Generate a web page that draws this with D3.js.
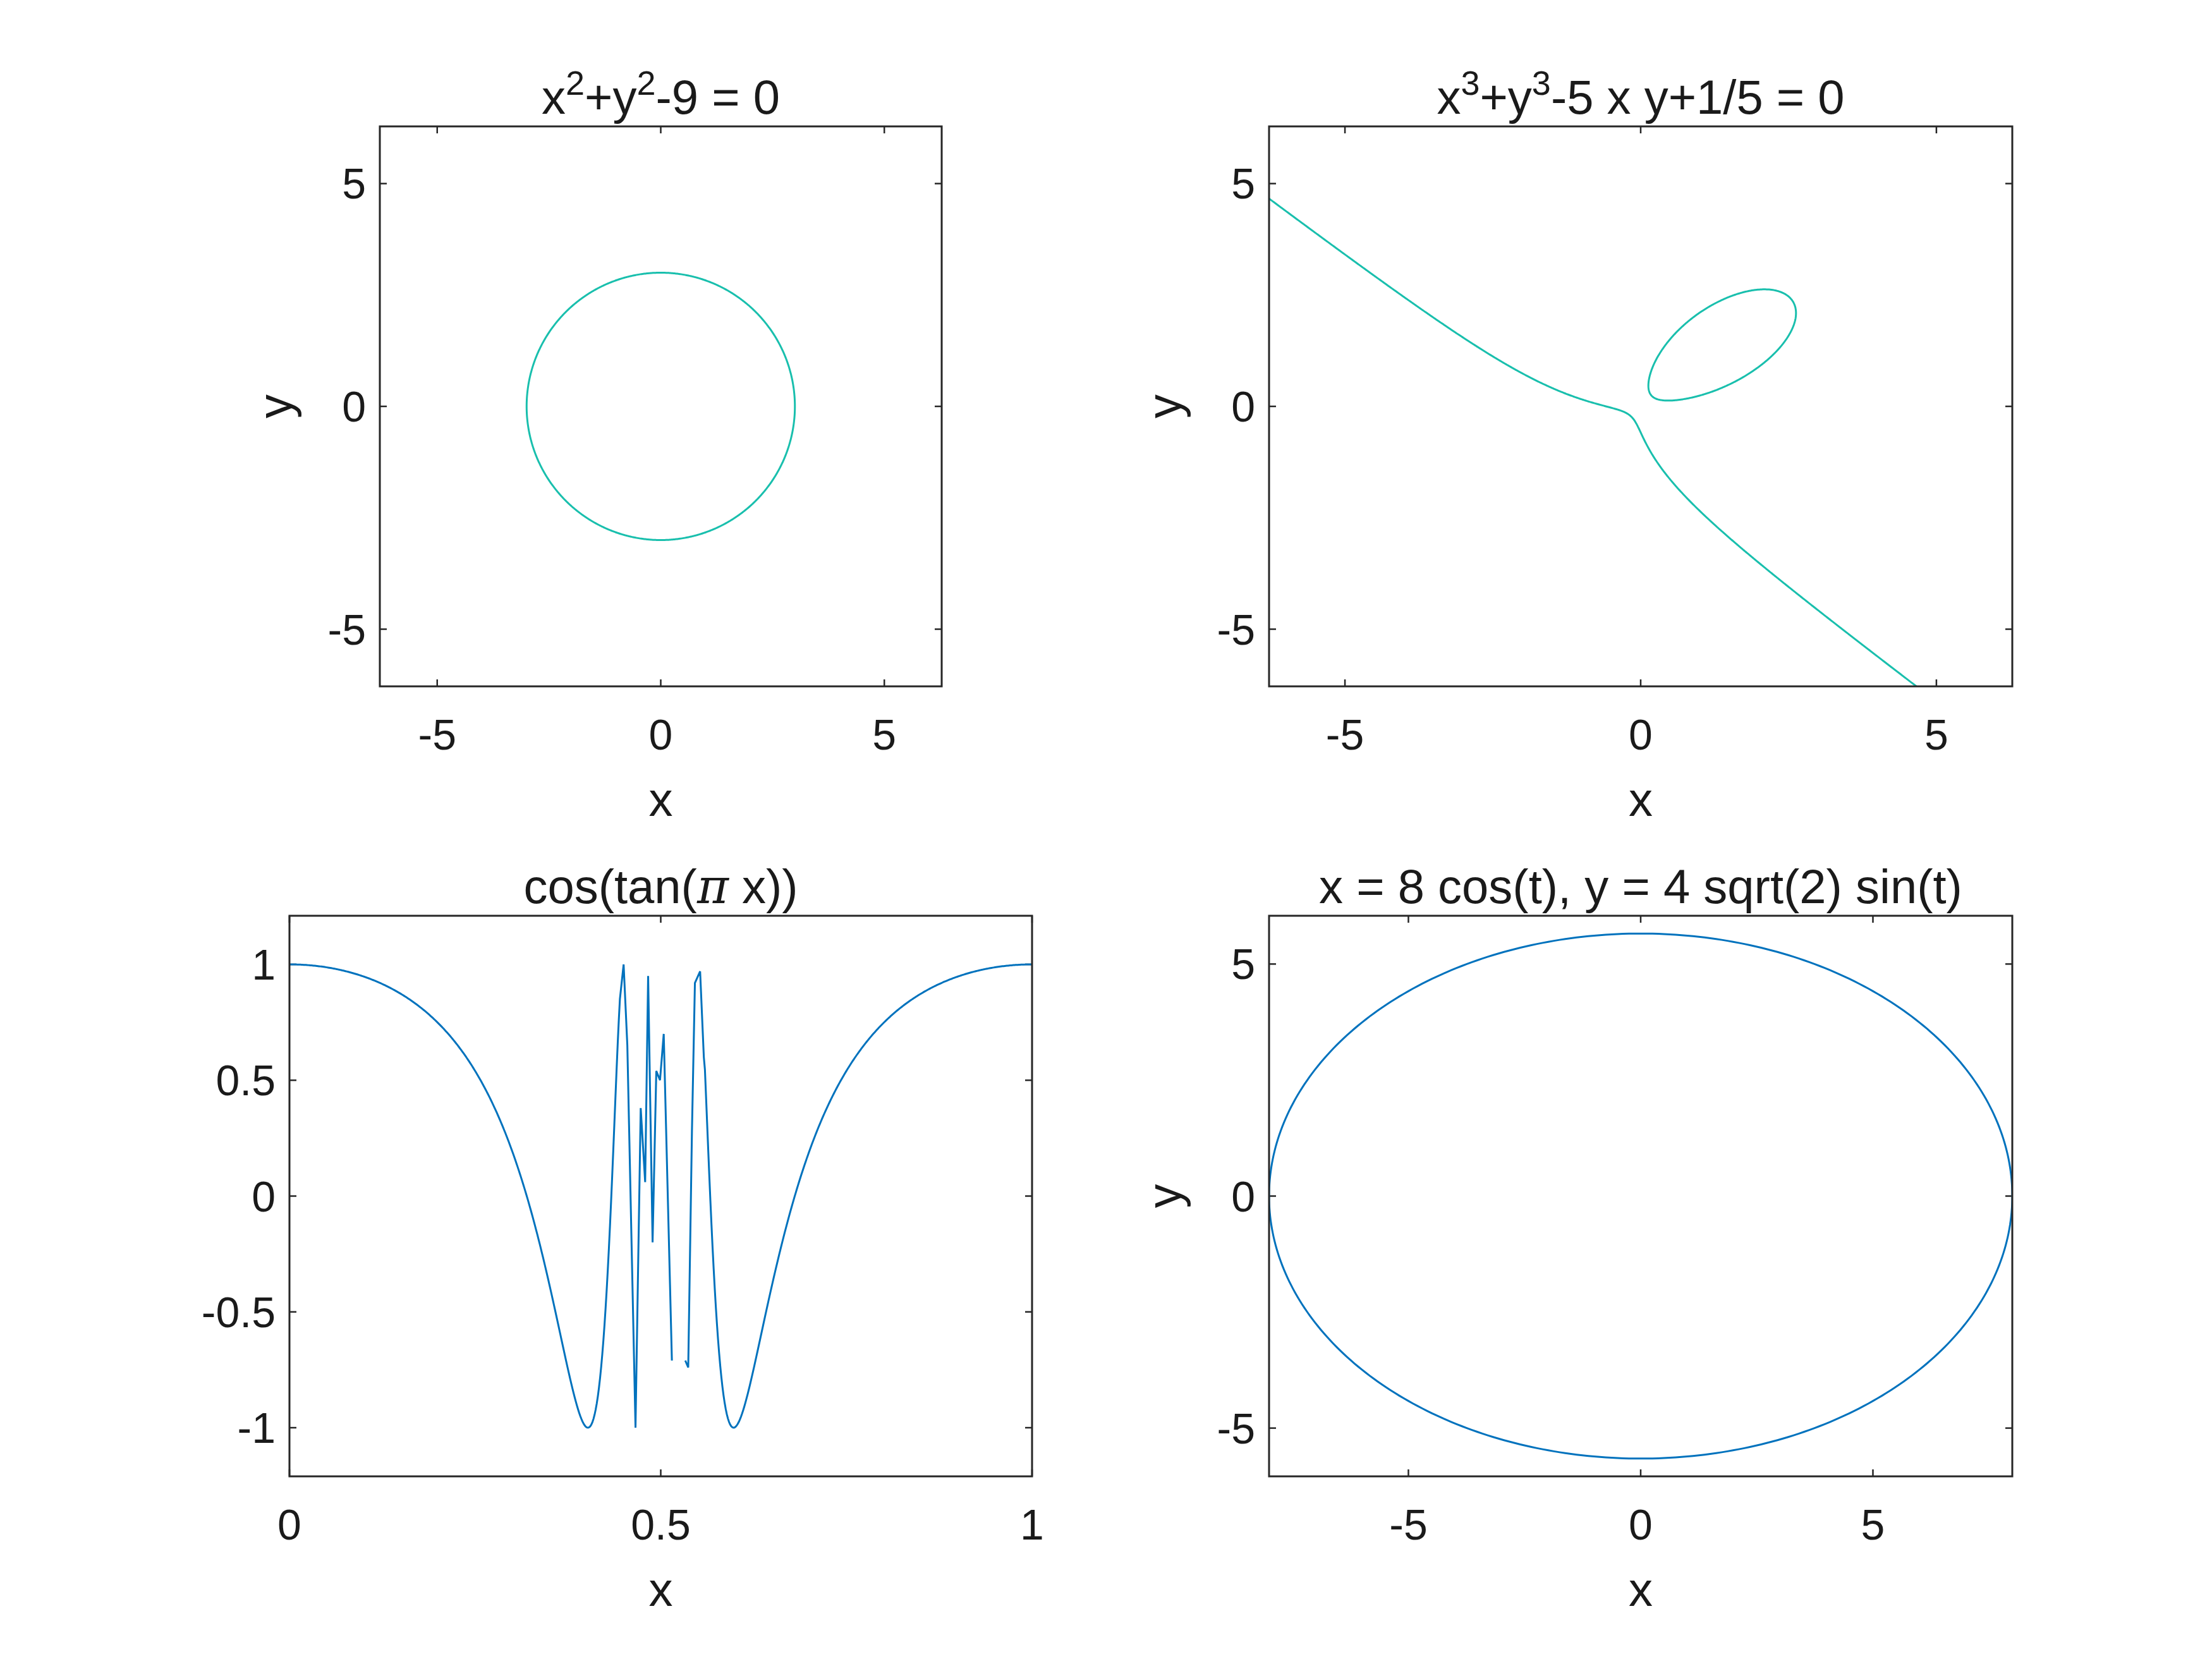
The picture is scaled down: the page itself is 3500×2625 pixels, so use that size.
<!DOCTYPE html>
<html><head><meta charset="utf-8">
<script src="https://cdn.jsdelivr.net/npm/d3@7"></script>
<style>body{margin:0;background:#fff}text{font-family:"Liberation Sans",Arial,sans-serif;fill:#1a1a1a}</style>
</head><body><svg id="c" width="3500" height="2625"></svg>
<script>
// ---- data ----
const circleR2 = [9];                       // x^2+y^2 = 9
const cubicCoef = [5, 0.2];                 // x^3+y^3-5xy+1/5 = 0
const ellipseAB = [8, 4*Math.SQRT2];        // x=8cos t, y=4sqrt2 sin t
const implicitTicks = [-5, 0, 5];
const cosTanYTicks = [-1, -0.5, 0, 0.5, 1];
const cosTanXTicks = [0, 0.5, 1];
// jagged middle part of cos(tan(pi x)) as sampled in the picture
const cosTanMidA = [[0.445,0.88],[0.450,1.0],[0.455,0.65],[0.466,-1.0],[0.473,0.38],[0.479,0.06],[0.483,0.95],[0.489,-0.2],[0.494,0.54],[0.499,0.5],[0.504,0.7],[0.515,-0.71]];
const cosTanMidB = [[0.533,-0.71],[0.537,-0.74],[0.542,0.28],[0.546,0.92],[0.553,0.97],[0.558,0.6]];

const svg = d3.select("#c");
const FS = 68, TFS = 76, TEAL = "#19bfad", BLUE = "#0072BD";
const PI2 = 2*Math.PI;

function axes(box, xd, yd, xt, yt, title, xl, yl){
  const g = svg.append("g");
  const x = d3.scaleLinear().domain(xd).range([box[0], box[2]]);
  const y = d3.scaleLinear().domain(yd).range([box[3], box[1]]);
  const T = 11;
  xt.forEach(v=>{
    g.append("line").attr("x1",x(v)).attr("x2",x(v)).attr("y1",box[3]).attr("y2",box[3]-T).attr("stroke","#262626").attr("stroke-width",2.5);
    g.append("line").attr("x1",x(v)).attr("x2",x(v)).attr("y1",box[1]).attr("y2",box[1]+T).attr("stroke","#262626").attr("stroke-width",2.5);
    g.append("text").attr("x",x(v)).attr("y",box[3]+100).attr("text-anchor","middle").attr("font-size",FS).text(String(v));
  });
  yt.forEach(v=>{
    g.append("line").attr("y1",y(v)).attr("y2",y(v)).attr("x1",box[0]).attr("x2",box[0]+T).attr("stroke","#262626").attr("stroke-width",2.5);
    g.append("line").attr("y1",y(v)).attr("y2",y(v)).attr("x1",box[2]).attr("x2",box[2]-T).attr("stroke","#262626").attr("stroke-width",2.5);
    g.append("text").attr("x",box[0]-22).attr("y",y(v)+24).attr("text-anchor","end").attr("font-size",FS).text(String(v));
  });
  g.append("rect").attr("x",box[0]).attr("y",box[1]).attr("width",box[2]-box[0]).attr("height",box[3]-box[1]).attr("fill","none").attr("stroke","#262626").attr("stroke-width",3);
  g.append("text").attr("x",(box[0]+box[2])/2).attr("y",box[3]+205).attr("text-anchor","middle").attr("font-size",TFS).text(xl);
  if(yl) g.append("text").attr("transform",`translate(${box[0]-140},${(box[1]+box[3])/2}) rotate(-90)`).attr("text-anchor","middle").attr("font-size",TFS).text(yl);
  const t = g.append("text").attr("x",(box[0]+box[2])/2).attr("y",box[1]-20).attr("text-anchor","middle").attr("font-size",TFS);
  // parts: [text, kind] kind: "sup" | "base" (after sup) | "pi" | undefined
  title.forEach(p=>{
    const s=t.append("tspan").text(p[0]);
    if(p[1]==="sup") s.attr("dy",-30).attr("font-size",54);
    if(p[1]==="base") s.attr("dy",30);
    if(p[1]==="pi") s.attr("font-family","DejaVu Serif").attr("font-style","italic");
  });
  const clip = "c"+Math.random().toString(36).slice(2);
  g.append("clipPath").attr("id",clip).append("rect").attr("x",box[0]).attr("y",box[1]).attr("width",box[2]-box[0]).attr("height",box[3]-box[1]);
  const pg = g.insert("g","rect").attr("clip-path",`url(#${clip})`);
  return {x,y,pg};
}

function implicit(ax, f, xd, yd, color){
  const n=600, m=600, vals=new Float64Array(n*m);
  for(let j=0;j<m;j++)for(let i=0;i<n;i++){
    const xx=xd[0]+(xd[1]-xd[0])*(i)/(n-1), yy=yd[0]+(yd[1]-yd[0])*(j)/(m-1);
    vals[j*n+i]=f(xx,yy);
  }
  const c = d3.contours().size([n,m]).smooth(true).thresholds([0])(Array.from(vals))[0];
  const sx = gx=>ax.x(xd[0]+(xd[1]-xd[0])*(gx-0.5)/(n-1));
  const sy = gy=>ax.y(yd[0]+(yd[1]-yd[0])*(gy-0.5)/(m-1));
  c.coordinates.forEach(poly=>poly.forEach(ring=>{
    let seg=[];
    const flush=()=>{ if(seg.length>1) ax.pg.append("path").attr("d",d3.line()(seg)).attr("fill","none").attr("stroke",color).attr("stroke-width",3); seg=[]; };
    ring.forEach(p=>{
      const onB = p[0]<=0.01||p[0]>=n-0.01||p[1]<=0.01||p[1]>=m-0.01;
      if(onB) flush(); else seg.push([sx(p[0]),sy(p[1])]);
    });
    flush();
  }));
}

const d1=[-PI2,PI2];
const a1 = axes([601,200,1490,1086], d1, d1, implicitTicks, implicitTicks, [["x"],["2","sup"],["+y","base"],["2","sup"],["-9 = 0","base"]], "x", "y");
implicit(a1,(x,y)=>x*x+y*y-circleR2[0], d1, d1, TEAL);
const a2 = axes([2008,200,3184,1086], d1, d1, implicitTicks, implicitTicks, [["x"],["3","sup"],["+y","base"],["3","sup"],["-5 x y+1/5 = 0","base"]], "x", "y");
implicit(a2,(x,y)=>x*x*x+y*y*y-cubicCoef[0]*x*y+cubicCoef[1], d1, d1, TEAL);
const a3 = axes([458,1449,1633,2336], [0,1], [-1.21,1.21], cosTanXTicks, cosTanYTicks, [["cos(tan("],["π","pi"],[" x))"]], "x", null);
const L = d3.line().x(d=>a3.x(d[0])).y(d=>a3.y(d[1]));
const left=[], right=[];
for(let i=0;i<=300;i++){ const x=0.445*i/300; left.push([x,Math.cos(Math.tan(Math.PI*x))]); }
for(let i=0;i<=300;i++){ const x=0.558+(1-0.558)*i/300; right.push([x,Math.cos(Math.tan(Math.PI*x))]); }
[left.concat(cosTanMidA.slice(1)), cosTanMidB.concat(right.slice(1))].forEach(s=>a3.pg.append("path").attr("d",L(s)).attr("fill","none").attr("stroke",BLUE).attr("stroke-width",3));
const a4 = axes([2008,1449,3184,2336], [-8,8], [-6.04,6.04], implicitTicks, implicitTicks, [["x = 8 cos(t), y = 4 sqrt(2) sin(t)"]], "x", "y");
const el=d3.range(0,401).map(i=>{const t=PI2*i/400;return [ellipseAB[0]*Math.cos(t),ellipseAB[1]*Math.sin(t)];});
a4.pg.append("path").attr("d",d3.line().x(d=>a4.x(d[0])).y(d=>a4.y(d[1]))(el)).attr("fill","none").attr("stroke",BLUE).attr("stroke-width",3);
</script></body></html>
